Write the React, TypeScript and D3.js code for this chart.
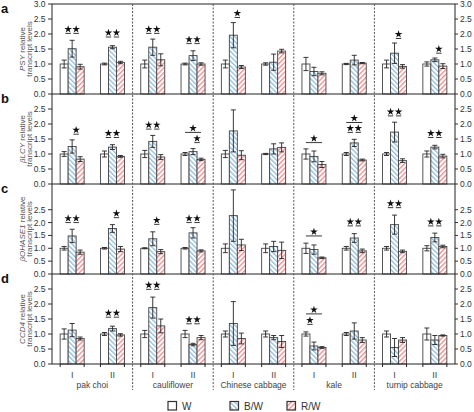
import * as d3 from "d3";

const CROPS = ["pak choi", "cauliflower", "Chinese cabbage", "kale", "turnip cabbage"];
const STAGES = ["I", "II"];
const TREATMENTS = ["W", "B/W", "R/W"];

// order: pak choi I, II, cauliflower I, II, Chinese cabbage I, II, kale I, II, turnip cabbage I, II
const PSY_W = [1.0, 1.0, 1.0, 1.0, 1.0, 1.0, 1.0, 1.0, 1.0, 1.0];
const PSY_B = [1.51, 1.56, 1.56, 1.28, 1.96, 1.06, 0.75, 1.13, 1.36, 1.14];
const PSY_R = [0.91, 1.05, 1.14, 1.0, 0.9, 1.43, 0.69, 1.03, 0.92, 0.93];
const PSY_W_ERR = [0.13, 0.03, 0.13, 0.03, 0.13, 0.04, 0.22, 0.02, 0.13, 0.07];
const PSY_B_ERR = [0.28, 0.05, 0.27, 0.16, 0.42, 0.27, 0.14, 0.16, 0.34, 0.06];
const PSY_R_ERR = [0.08, 0.04, 0.2, 0.04, 0.05, 0.06, 0.05, 0.02, 0.06, 0.08];

const LCY_W = [1.0, 1.0, 1.0, 1.0, 1.0, 1.0, 1.0, 1.0, 1.0, 1.0];
const LCY_B = [1.25, 1.23, 1.42, 1.08, 1.77, 1.17, 0.92, 1.37, 1.73, 1.23];
const LCY_R = [0.83, 0.92, 0.9, 0.82, 0.96, 1.22, 0.65, 0.8, 0.78, 0.93];
const LCY_W_ERR = [0.08, 0.1, 0.12, 0.05, 0.12, 0.02, 0.17, 0.05, 0.05, 0.1];
const LCY_B_ERR = [0.22, 0.08, 0.2, 0.1, 0.7, 0.17, 0.18, 0.12, 0.33, 0.06];
const LCY_R_ERR = [0.08, 0.03, 0.08, 0.04, 0.15, 0.15, 0.1, 0.03, 0.06, 0.06];

const OHA_W = [1.0, 1.0, 1.0, 1.0, 1.0, 1.0, 1.0, 1.0, 1.0, 1.0];
const OHA_B = [1.48, 1.77, 1.37, 1.6, 2.27, 1.07, 0.95, 1.4, 1.92, 1.42];
const OHA_R = [0.85, 0.97, 0.87, 0.9, 1.13, 0.92, 0.63, 0.9, 0.88, 1.07];
const OHA_W_ERR = [0.07, 0.03, 0.02, 0.03, 0.17, 0.17, 0.2, 0.07, 0.07, 0.1];
const OHA_B_ERR = [0.26, 0.15, 0.27, 0.2, 1.0, 0.2, 0.18, 0.17, 0.37, 0.17];
const OHA_R_ERR = [0.08, 0.1, 0.08, 0.04, 0.22, 0.32, 0.03, 0.07, 0.05, 0.05];

const CCD_W = [1.0, 1.0, 1.0, 1.0, 1.0, 1.0, 1.0, 1.0, 1.0, 1.0];
const CCD_B = [1.13, 1.18, 1.88, 0.65, 1.35, 0.88, 0.6, 1.1, 0.55, 0.8];
const CCD_R = [0.85, 0.97, 1.27, 0.88, 0.85, 0.75, 0.55, 0.8, 0.8, 0.95];
const CCD_W_ERR = [0.17, 0.05, 0.12, 0.12, 0.1, 0.1, 0.07, 0.05, 0.1, 0.2];
const CCD_B_ERR = [0.22, 0.08, 0.35, 0.04, 0.73, 0.07, 0.13, 0.27, 0.3, 0.15];
const CCD_R_ERR = [0.05, 0.04, 0.23, 0.07, 0.18, 0.2, 0.03, 0.08, 0.08, 0.02];

// significance: [category index, from bar, to bar, line level]
const PSY_SIG = [[0, 0, 1, 2.02], [0, 1, 2, 2.02], [1, 0, 1, 1.9], [1, 1, 2, 1.9], [2, 0, 1, 2.02], [2, 1, 2, 2.02],
  [3, 0, 1, 1.68], [3, 1, 2, 1.68], [4, 1, 2, 2.55], [8, 1, 2, 1.85], [9, 1, 2, 1.36]];
const LCY_SIG = [[0, 1, 2, 1.66], [1, 0, 1, 1.55], [1, 1, 2, 1.55], [2, 0, 1, 1.83], [2, 1, 2, 1.83],
  [3, 0, 2, 1.72], [3, 1, 2, 1.38], [6, 0, 2, 1.38], [7, 0, 2, 2.05], [7, 0, 1, 1.72], [7, 1, 2, 1.72],
  [8, 0, 1, 2.27], [8, 1, 2, 2.27], [9, 0, 1, 1.55], [9, 1, 2, 1.55]];
const OHA_SIG = [[0, 0, 1, 2.0], [0, 1, 2, 2.0], [1, 1, 2, 2.19], [2, 1, 2, 1.93], [3, 0, 1, 2.0], [3, 1, 2, 2.0],
  [6, 0, 2, 1.48], [7, 0, 1, 1.87], [7, 1, 2, 1.87], [8, 0, 1, 2.58], [8, 1, 2, 2.58], [9, 0, 1, 1.87], [9, 1, 2, 1.87]];
const CCD_SIG = [[1, 0, 1, 1.56], [1, 1, 2, 1.56], [2, 0, 1, 2.49], [2, 1, 2, 2.49], [3, 0, 1, 1.34], [3, 1, 2, 1.34],
  [6, 0, 1, 1.32], [6, 0, 2, 1.67]];

const PANELS = [
  { letter: "a", gene: "PSY", max: 3, values: [PSY_W, PSY_B, PSY_R], errs: [PSY_W_ERR, PSY_B_ERR, PSY_R_ERR], sig: PSY_SIG },
  { letter: "b", gene: "\u03b2LCY", max: 3, values: [LCY_W, LCY_B, LCY_R], errs: [LCY_W_ERR, LCY_B_ERR, LCY_R_ERR], sig: LCY_SIG },
  { letter: "c", gene: "\u03b2OHASE1", max: 3.5, values: [OHA_W, OHA_B, OHA_R], errs: [OHA_W_ERR, OHA_B_ERR, OHA_R_ERR], sig: OHA_SIG },
  { letter: "d", gene: "CCD4", max: 3, values: [CCD_W, CCD_B, CCD_R], errs: [CCD_W_ERR, CCD_B_ERR, CCD_R_ERR], sig: CCD_SIG },
];

const LEFT = 52;
const RIGHT = 455;
const TOP = 4;
const PANEL_H = 90;
const BAR_W = 8;
const FILLS = ["#ffffff", "url(#hatchBlue)", "url(#hatchRed)"];
const FONT = "Liberation Sans, Arial, sans-serif";

export default function App() {
  const xCrop = d3.scaleBand().domain(CROPS).range([LEFT, RIGHT]);
  const xStage = d3.scaleBand().domain(STAGES).range([0, xCrop.bandwidth()]);
  const xBar = d3.scaleBand().domain(TREATMENTS).range([-1.5 * BAR_W, 1.5 * BAR_W]);
  const catCenter = (i: number) =>
    (xCrop(CROPS[Math.floor(i / 2)]) as number) + (xStage(STAGES[i % 2]) as number) + xStage.bandwidth() / 2;
  const barCenter = (i: number, t: number) => catCenter(i) + (xBar(TREATMENTS[t]) as number) + BAR_W / 2;
  const bottom = TOP + PANELS.length * PANEL_H;
  const star = d3.symbol().type(d3.symbolStar).size(18)();

  return (
    <svg width={474} height={412} style={{ position: "absolute", left: 0, top: 0 }} fontFamily={FONT}>
      <defs>
        <pattern id="hatchBlue" width={3.4} height={3.4} patternUnits="userSpaceOnUse" patternTransform="rotate(-45)">
          <rect width={3.4} height={3.4} fill="#fff" />
          <line x1={0.7} y1={0} x2={0.7} y2={3.4} stroke="#8dbbdc" strokeWidth={1.3} />
        </pattern>
        <pattern id="hatchRed" width={3.4} height={3.4} patternUnits="userSpaceOnUse" patternTransform="rotate(45)">
          <rect width={3.4} height={3.4} fill="#fff" />
          <line x1={0.7} y1={0} x2={0.7} y2={3.4} stroke="#f08a8a" strokeWidth={1.3} />
        </pattern>
      </defs>

      {PANELS.map((p, pi) => {
        const y0 = TOP + pi * PANEL_H;
        const y = d3.scaleLinear().domain([0, p.max]).range([y0 + PANEL_H, y0]);
        const ticks = d3.range(0, p.max + 0.001, 0.5).filter((t) => pi === 0 || t < 2.99);
        const mid = y0 + PANEL_H / 2;
        return (
          <g key={p.letter}>
            <text x={1} y={y0 + 9} fontSize={13} fontWeight="bold" fill="#111">{p.letter}</text>
            <g transform={`translate(24.5,${mid}) rotate(-90)`} fontSize={8} fill="#555" textAnchor="middle">
              <text>
                <tspan fontStyle="italic">{p.gene}</tspan> relative
              </text>
              <text y={7.5}>transcript levels</text>
            </g>
            {ticks.map((t) => (
              <g key={t}>
                <line x1={LEFT - 4} x2={LEFT} y1={y(t)} y2={y(t)} stroke="#333" />
                <line x1={RIGHT} x2={RIGHT + 3} y1={y(t)} y2={y(t)} stroke="#333" />
                <text x={LEFT - 6.5} y={y(t) + 3} fontSize={8.5} textAnchor="end" fill="#333">{t.toFixed(1)}</text>
                <text x={RIGHT + 5} y={y(t) + 3} fontSize={8.5} fill="#333">{t.toFixed(1)}</text>
              </g>
            ))}
            {d3.range(10).map((i) =>
              TREATMENTS.map((_, t) => {
                const v = p.values[t][i];
                const e = p.errs[t][i];
                const cx = barCenter(i, t);
                return (
                  <g key={`${i}-${t}`}>
                    <rect x={cx - BAR_W / 2} y={y(v)} width={BAR_W} height={y(0) - y(v)} fill={FILLS[t]} stroke="#444" strokeWidth={0.9} />
                    <line x1={cx} x2={cx} y1={y(v + e)} y2={y(v - e)} stroke="#222" strokeWidth={0.9} />
                    <line x1={cx - 2.5} x2={cx + 2.5} y1={y(v + e)} y2={y(v + e)} stroke="#222" strokeWidth={0.9} />
                    <line x1={cx - 2.5} x2={cx + 2.5} y1={y(v - e)} y2={y(v - e)} stroke="#222" strokeWidth={0.9} />
                  </g>
                );
              })
            )}
            {p.sig.map(([i, a, b, lv], k) => {
              const trim = b - a === 1 ? 1.3 : 0;
              const xa = barCenter(i, a) + trim;
              const xb = barCenter(i, b) - trim;
              return (
                <g key={k}>
                  <line x1={xa} x2={xb} y1={y(lv)} y2={y(lv)} stroke="#222" strokeWidth={0.9} />
                  <path d={star as string} transform={`translate(${(xa + xb) / 2},${y(lv) - 4.2})`} fill="#111" />
                </g>
              );
            })}
            <line x1={LEFT} x2={RIGHT} y1={y(0)} y2={y(0)} stroke="#222" />
          </g>
        );
      })}

      <line x1={LEFT} x2={RIGHT} y1={TOP} y2={TOP} stroke="#222" />
      <line x1={LEFT} x2={LEFT} y1={TOP} y2={bottom} stroke="#222" />
      <line x1={RIGHT} x2={RIGHT} y1={TOP} y2={bottom} stroke="#222" />

      {CROPS.slice(1).map((c) => (
        <line key={c} x1={xCrop(c)} x2={xCrop(c)} y1={TOP} y2={bottom + 26} stroke="#555" strokeDasharray="2,1.5" />
      ))}

      {d3.range(10).map((i) => (
        <g key={i}>
          <line x1={catCenter(i) - 12} x2={catCenter(i) - 12} y1={bottom} y2={bottom + 3} stroke="#222" />
          <line x1={catCenter(i) + 12} x2={catCenter(i) + 12} y1={bottom} y2={bottom + 3} stroke="#222" />
          <text x={catCenter(i)} y={bottom + 14} fontSize={9} textAnchor="middle" fill="#444">{STAGES[i % 2]}</text>
        </g>
      ))}
      {CROPS.map((c) => (
        <text key={c} x={(xCrop(c) as number) + xCrop.bandwidth() / 2} y={bottom + 24} fontSize={8.5} textAnchor="middle" fill="#444">
          {c}
        </text>
      ))}

      {TREATMENTS.map((t, k) => {
        const lx = [168, 230, 287][k];
        return (
          <g key={t}>
            <rect x={lx} y={401.5} width={8.5} height={8.5} fill={FILLS[k]} stroke="#333" strokeWidth={1.2} />
            <text x={lx + 14} y={409.5} fontSize={10} fill="#333">{t}</text>
          </g>
        );
      })}
    </svg>
  );
}
